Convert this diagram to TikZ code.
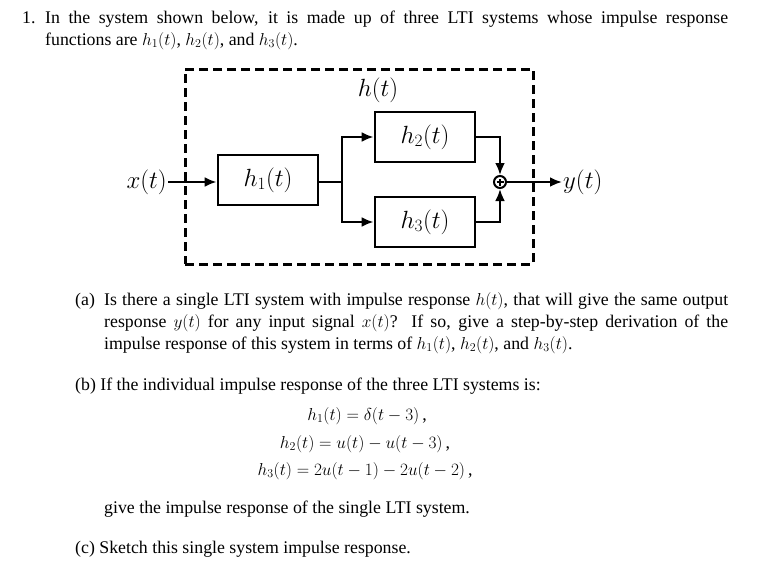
\documentclass[tikz,border=0pt]{standalone}
\usepackage{fontspec}
\setmainfont{Liberation Serif}
\usetikzlibrary{arrows.meta}
\begin{document}
\begin{tikzpicture}[x=1pt,y=-1pt,
  txt/.style={anchor=base west,inner sep=0pt,font=\fontsize{17.8}{22}\selectfont},
  blk/.style={draw,line width=2.8pt,minimum width=100pt,minimum height=50pt,font=\fontsize{23}{24}\selectfont},
  sig/.style={line width=2.8pt,-{Latex[length=12pt,width=10pt]}},
  wire/.style={line width=2.8pt},
  lab/.style={font=\fontsize{23}{24}\selectfont,inner sep=1pt}]
\useasboundingbox (0,0) rectangle (778,570);
% text
\node[txt] (n1) at (22,23) {1.};
\node[txt,text width=683pt,align=justify] (p1) at (45,23) {In the system shown below, it is made up of three LTI systems whose impulse response\linebreak functions are $h_1(t)$, $h_2(t)$, and $h_3(t)$.};
\node[txt] (al) at (75,305) {(a)};
\node[txt,text width=624pt,align=justify] (ap) at (104,305) {Is there a single LTI system with impulse response $h(t)$, that will give the same output\linebreak response $y(t)$ for any input signal $x(t)$? If so, give a step-by-step derivation of the\linebreak impulse response of this system in terms of $h_1(t)$, $h_2(t)$, and $h_3(t)$.};
\node[txt] (bl) at (75,390) {(b) If the individual impulse response of the three LTI systems is:};
\node[txt,anchor=base] (e1) at (367,420) {$h_1(t)=\delta(t-3)$\,,};
\node[txt,anchor=base] (e2) at (365,448) {$h_2(t)=u(t)-u(t-3)$\,,};
\node[txt,anchor=base] (e3) at (365,475) {$h_3(t)=2u(t-1)-2u(t-2)$\,,};
\node[txt] (bg) at (104,513) {give the impulse response of the single LTI system.};
\node[txt] (cl) at (75,553) {(c) Sketch this single system impulse response.};
% diagram
\node[draw,line width=3pt,dash pattern=on 9pt off 5pt,minimum width=348pt,minimum height=195pt,inner sep=0pt] (hb) at (359,166.5) {};
\node[lab] (hl) at (378,90) {$h(t)$};
\node[blk] (h1) at (268,180) {$h_1(t)$};
\node[blk] (h2) at (425,137) {$h_2(t)$};
\node[blk] (h3) at (425,222) {$h_3(t)$};
\node[draw,circle,line width=2pt,minimum size=12pt,inner sep=0pt] (s) at (500,182) {};
\draw[line width=1.8pt] ([xshift=-3.5pt]s.center) -- ([xshift=3.5pt]s.center) ([yshift=-3.5pt]s.center) -- ([yshift=3.5pt]s.center);
\node[lab,anchor=east] (x) at (168,182) {$x(t)$};
\node[lab,anchor=west] (y) at (562,182) {$y(t)$};
\coordinate (sp) at (342,182);
\draw[sig] (x.east) -- (h1.west|-x.east);
\draw[wire] (h1.east|-sp) -- (sp);
\draw[sig] (sp) |- (h2.west);
\draw[sig] (sp) |- (h3.west);
\draw[sig] (h2.east) -| (s.north);
\draw[sig] (h3.east) -| (s.south);
\draw[sig] (s.east) -- (y.west);
\end{tikzpicture}
\end{document}
